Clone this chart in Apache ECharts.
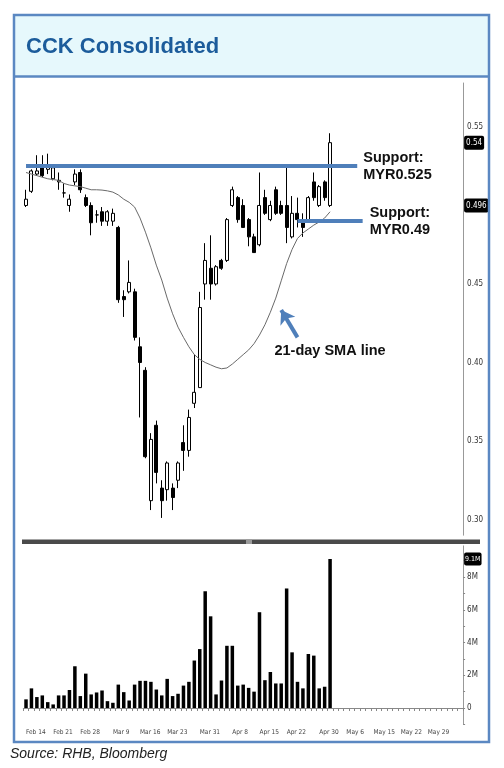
<!DOCTYPE html>
<html><head><meta charset="utf-8">
<script src="https://cdn.jsdelivr.net/npm/echarts@6/dist/echarts.min.js"></script>
<style>html,body{margin:0;padding:0;background:#fff}#c{width:504px;height:768px}</style>
</head><body><div id="c"></div>
<script>
// ---- data ----
const tickLabels = ['Feb 14','Feb 21','Feb 28','Mar 9','Mar 16','Mar 23','Mar 31','Apr 8','Apr 15','Apr 22','Apr 30','May 6','May 15','May 22','May 29'];
const tickIndex  = [0,5,10,16,21,26,32,38,43,48,54,59,64,69,74];
const slotCount = 81;
const categories = Array.from({length: slotCount}, (_, i) => String(i));

const opens  = [0.500,0.509,0.520,0.524,0.523,0.517,0.515,0.508,0.500,0.515,0.521,0.505,0.500,0.494,0.496,0.490,0.490,0.486,0.442,0.445,0.445,0.410,0.395,0.312,0.360,0.320,0.319,0.320,0.325,0.349,0.344,0.374,0.384,0.450,0.460,0.450,0.465,0.465,0.500,0.505,0.500,0.491,0.480,0.475,0.505,0.491,0.510,0.500,0.500,0.480,0.495,0.490,0.491,0.515,0.500,0.515,0.500];
const closes = [0.504,0.522,0.522,0.519,0.525,0.524,0.516,0.508,0.504,0.520,0.510,0.500,0.489,0.494,0.490,0.496,0.495,0.440,0.440,0.451,0.416,0.400,0.340,0.351,0.330,0.312,0.336,0.314,0.336,0.344,0.365,0.381,0.435,0.465,0.450,0.461,0.460,0.491,0.510,0.491,0.486,0.480,0.470,0.500,0.495,0.500,0.495,0.495,0.486,0.495,0.491,0.486,0.505,0.505,0.512,0.505,0.540];
const lows   = [0.499,0.508,0.519,0.518,0.520,0.516,0.510,0.505,0.496,0.513,0.508,0.499,0.481,0.489,0.487,0.487,0.487,0.438,0.429,0.444,0.414,0.365,0.339,0.306,0.323,0.301,0.312,0.306,0.320,0.331,0.340,0.371,0.384,0.440,0.440,0.449,0.459,0.464,0.499,0.489,0.486,0.474,0.470,0.474,0.494,0.490,0.494,0.494,0.476,0.479,0.486,0.480,0.489,0.503,0.499,0.503,0.499];
const highs  = [0.510,0.523,0.532,0.532,0.533,0.525,0.521,0.514,0.507,0.523,0.523,0.507,0.502,0.497,0.499,0.497,0.498,0.487,0.446,0.465,0.447,0.416,0.397,0.355,0.363,0.325,0.337,0.323,0.337,0.360,0.370,0.405,0.445,0.476,0.481,0.462,0.466,0.492,0.512,0.506,0.504,0.492,0.482,0.521,0.510,0.503,0.512,0.503,0.524,0.506,0.505,0.495,0.506,0.521,0.513,0.516,0.546];
const volumes = [0.53,1.2,0.67,0.77,0.36,0.22,0.77,0.77,1.1,2.55,0.73,2.1,0.83,0.95,1.07,0.42,0.32,1.43,0.97,0.46,1.43,1.66,1.66,1.6,1.13,0.77,1.78,0.73,0.87,1.37,1.6,2.9,3.6,7.13,5.6,0.83,1.68,3.8,3.8,1.37,1.43,1.23,1.0,5.85,1.7,2.2,1.5,1.5,7.3,3.4,1.6,1.2,3.3,3.2,1.2,1.3,9.1];
const sma21 = [0.521,0.520,0.519,0.518,0.517,0.5165,0.516,0.514,0.513,0.5125,0.512,0.511,0.510,0.510,0.5098,0.5093,0.5085,0.5067,0.504,0.502,0.499,0.492,0.483,0.473,0.462,0.4525,0.441,0.431,0.4225,0.416,0.410,0.405,0.402,0.400,0.3985,0.397,0.396,0.3965,0.399,0.402,0.405,0.408,0.412,0.4175,0.424,0.432,0.441,0.452,0.463,0.472,0.479,0.4825,0.485,0.4875,0.4895,0.492,0.496];

const supportHigh = 0.525, supportLow = 0.49;
const supportHighSpan = [0, 61], supportLowSpan = [50, 62];
const arrowFrom = [50, 0.416], arrowTo = [47, 0.4334];
const smaNote = [56, 0.4073];

// ---- build ----
const candles = opens.map((o, i) => [o, closes[i], lows[i], highs[i]]);
const last = closes.length - 1;
const BLUE = '#4f7fba';
const tinyFont = "'Liberation Sans Narrow','DejaVu Sans Condensed',sans-serif";
const hidden = {color: 'rgba(0,0,0,0)', width: 0.01};
const boxLabel = (txt) => ({
  show: true, position: 'end', distance: 1, formatter: txt, opacity: 1,
  backgroundColor: '#000', color: '#fff', fontSize: 8, fontFamily: tinyFont,
  padding: [3, 2], borderRadius: 2
});

const chart = echarts.init(document.getElementById('c'), null, {renderer: 'canvas'});
chart.setOption({
  animation: false,
  backgroundColor: '#fff',
  textStyle: {fontFamily: "'Liberation Sans', Arial, sans-serif"},
  graphic: [
    {type: 'rect', shape: {x: 14, y: 15, width: 475, height: 62}, style: {fill: '#e6f8fc'}, z: -10},
    {type: 'rect', shape: {x: 14, y: 15, width: 475, height: 727}, style: {fill: null, stroke: '#5b88c2', lineWidth: 2.5}, z: 10},
    {type: 'line', shape: {x1: 14, y1: 76.5, x2: 489, y2: 76.5}, style: {stroke: '#5b88c2', lineWidth: 2.5}, z: 10},
    {type: 'rect', shape: {x: 22, y: 539.5, width: 458, height: 4.5}, style: {fill: '#4a4a4a'}, z: 10},
    {type: 'rect', shape: {x: 246, y: 539.5, width: 6, height: 4.5}, style: {fill: '#9a9a9a'}, z: 11}
  ],
  title: [
    {text: 'CCK Consolidated', left: 26, top: 36, padding: 0,
     textStyle: {fontSize: 22, fontWeight: 'bold', color: '#1c5c9b'}},
    {text: 'Source: RHB, Bloomberg', left: 10, top: 747, padding: 0,
     textStyle: {fontSize: 14, fontStyle: 'italic', fontWeight: 'normal', color: '#222'}}
  ],
  grid: [
    {left: 23.3, right: 40.9, top: 83, height: 452.2},
    {left: 23.3, right: 40.9, top: 545.9, height: 178.5}
  ],
  xAxis: [
    {type: 'category', gridIndex: 0, data: categories, boundaryGap: true, show: false},
    {type: 'category', gridIndex: 1, data: categories, boundaryGap: true,
     axisLine: {lineStyle: {color: '#888'}},
     axisTick: {show: true, interval: 0, length: 3, lineStyle: {color: '#888'}},
     axisLabel: {interval: (i) => tickIndex.includes(i),
       formatter: (v) => { const j = tickIndex.indexOf(Number(v)); return j >= 0 ? tickLabels[j] : ''; },
       align: 'left', fontSize: 6.5, fontFamily: tinyFont, color: '#444', margin: 4}}
  ],
  yAxis: [
    {type: 'value', gridIndex: 0, position: 'right', min: 0.29, max: 0.578, interval: 0.005,
     splitLine: {show: false}, axisTick: {show: false},
     axisLine: {show: true, lineStyle: {color: '#999'}},
     axisLabel: {showMaxLabel: false, showMinLabel: false, margin: 4, fontSize: 8, fontFamily: tinyFont, color: '#333',
       formatter: (v) => (Math.abs(Math.round(v * 1000) % 50) === 0) ? v.toFixed(2) : ''}},
    {type: 'value', gridIndex: 1, position: 'right', min: -1, max: 9.9, interval: 1,
     splitLine: {show: false},
     axisTick: {show: true, length: 2, lineStyle: {color: '#888'}},
     axisLine: {show: true, lineStyle: {color: '#999'}},
     axisLabel: {showMaxLabel: false, margin: 4, fontSize: 8, fontFamily: tinyFont, color: '#333',
       formatter: (v) => { const r = Math.round(v); if (r === 0) return '0'; return (r > 0 && r % 2 === 0) ? r + 'M' : ''; }}}
  ],
  series: [
    {type: 'candlestick', xAxisIndex: 0, yAxisIndex: 0, data: candles, barWidth: 3.5,
     itemStyle: {color: '#fff', color0: '#000', borderColor: '#000', borderColor0: '#000', borderWidth: 1},
     markLine: {silent: true, symbol: ['none', 'none'], animation: false,
       data: [
         [{coord: [supportHighSpan[0], supportHigh],
           lineStyle: {color: BLUE, width: 4, type: 'solid'},
           label: {show: true, position: 'end', distance: 6, formatter: 'Support:\nMYR0.525', fontWeight: 'bold', fontSize: 14.5, lineHeight: 17, color: '#111'}},
          {coord: [supportHighSpan[1], supportHigh]}],
         [{coord: [supportLowSpan[0], supportLow],
           lineStyle: {color: BLUE, width: 4, type: 'solid'},
           label: {show: true, position: 'end', distance: 7, formatter: 'Support:\nMYR0.49', fontWeight: 'bold', fontSize: 14.5, lineHeight: 17, color: '#111'}},
          {coord: [supportLowSpan[1], supportLow]}],
         {yAxis: closes[last], lineStyle: hidden, label: boxLabel(closes[last].toFixed(2))}
       ]}},
    {type: 'line', xAxisIndex: 0, yAxisIndex: 0, data: sma21, symbol: 'none',
     lineStyle: {color: '#6a6a6a', width: 1}, z: 3,
     markLine: {silent: true, symbol: ['none', 'none'], animation: false,
       data: [
         {yAxis: sma21[last], lineStyle: hidden, label: boxLabel(sma21[last].toFixed(3))},
         [{coord: arrowFrom, symbol: 'none', lineStyle: {color: BLUE, width: 4, type: 'solid'}, label: {show: false}},
          {coord: arrowTo, symbol: 'arrow', symbolSize: 13}]
       ]},
     markPoint: {silent: true, animation: false,
       data: [{coord: smaNote, symbol: 'circle', symbolSize: 0,
         label: {show: true, position: 'inside', formatter: '21-day SMA line', fontWeight: 'bold', fontSize: 14.5, color: '#111'}}]}},
    {type: 'bar', xAxisIndex: 1, yAxisIndex: 1, data: volumes, barWidth: 3.5,
     itemStyle: {color: '#000'},
     markLine: {silent: true, symbol: ['none', 'none'], animation: false,
       data: [{yAxis: volumes[volumes.length - 1], lineStyle: hidden,
               label: Object.assign(boxLabel(volumes[volumes.length - 1].toFixed(1) + 'M'), {fontSize: 7, padding: [3, 1]})}]}}
  ]
});
</script></body></html>
